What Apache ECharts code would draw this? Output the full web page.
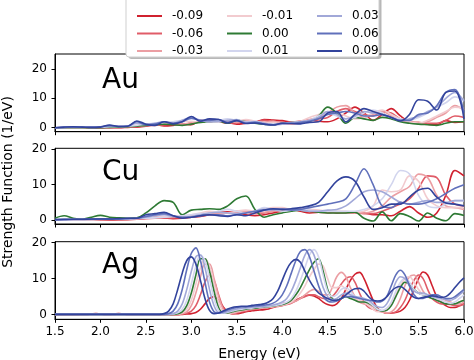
<!DOCTYPE html>
<html><head><meta charset="utf-8">
<script src="https://cdn.jsdelivr.net/npm/echarts@6/dist/echarts.min.js"></script>
<style>html,body{margin:0;padding:0;background:#fff}#c{width:474px;height:360px}</style>
</head><body><div id="c"></div>
<script>
// ---------- DATA ----------
const dopingLabels = ['-0.09','-0.06','-0.03','-0.01','0.00','0.01','0.03','0.06','0.09'];
const panelNames = ['Au','Cu','Ag'];
const yTickValues = [0, 10, 20];
const xTickInterval = 0.5;

const energyCoarse = [1.5,1.6,1.7,1.8,1.9,2.0,2.1,2.2,2.3,2.4,2.5,2.6,2.7,2.8,2.9,3.0,3.1,3.2,3.3,3.4,3.5,3.6,3.7,3.8,3.9,4.0,4.1,4.2,4.3,4.4,4.5,4.6,4.7,4.8,4.9,5.0,5.1,5.2,5.3,5.4,5.5,5.6,5.7,5.8,5.9,6.0];
const energyFine = [1.5,1.55,1.6,1.65,1.7,1.75,1.8,1.85,1.9,1.95,
  2.0,2.05,2.1,2.15,2.2,2.25,2.3,2.35,2.4,2.45,
  2.5,2.55,2.6,2.65,2.7,2.75,2.8,2.85,2.9,2.95,
  3.0,3.05,3.1,3.15,3.2,3.25,3.3,3.35,3.4,3.45,
  3.5,3.55,3.6,3.65,3.7,3.75,3.8,3.85,3.9,3.95,
  4.0,4.05,4.1,4.15,4.2,4.25,4.3,4.35,4.4,4.45,
  4.5,4.55,4.6,4.65,4.7,4.75,4.8,4.85,4.9,4.95,
  5.0,5.05,5.1,5.15,5.2,5.25,5.3,5.35,5.4,5.45,
  5.5,5.55,5.6,5.65,5.7,5.75,5.8,5.85,5.9,5.95,6.0];

// Au (energyCoarse)
const au_m09 = [0,0,0,0,0, 0,0,0,0.1,0.2,0.5,1.0,0.6,0.8,1.2, 1.0,2.5,2.0,2.6,1.8,1.2,1.5,1.8,2.8,2.6, 2.4,2.0,2.2,2.6,2.2,2.0,3.0,5.0,7.0,5.0, 2.5,4.5,6.5,4.0,2.0,1.5,1.2,1.0,2.4,1.8, 2.0];
const au_m06 = [0,0,0,0,0, 0,0.1,0.1,0.2,0.3,0.6,0.8,1.0,1.2,1.0, 1.5,2.0,2.8,2.2,1.5,1.8,2.2,2.0,2.5,2.0, 1.8,1.5,2.0,2.5,3.0,3.5,5.5,6.5,5.5,4.5, 4.0,5.5,5.0,3.0,2.0,1.8,1.5,1.5,2.5,4.0, 3.5];
const au_m03 = [0,0,0,0,0, 0.1,0.2,0.2,0.3,0.5,0.8,1.0,1.2,1.5,1.2, 1.8,2.2,2.0,2.5,2.0,1.8,2.5,2.0,1.8,2.2, 1.5,1.2,1.8,2.8,3.5,5.0,7.0,7.5,5.0,3.5, 4.5,5.5,4.0,2.5,1.8,1.5,2.0,3.5,5.0,7.5, 6.0];
const au_m01 = [0,0,0,0,0.1, 0.2,0.3,0.4,0.5,0.8,1.0,1.2,1.5,1.8,2.0, 2.2,1.8,2.2,2.0,2.5,2.2,2.8,2.2,1.5,1.8, 1.2,1.5,2.2,3.5,4.5,5.5,5.0,4.0,3.0,3.5, 5.0,6.0,4.5,3.0,2.0,1.5,2.5,4.0,5.5,7.0, 6.5];
const au_00  = [0,0,0,0,0, 0,0.1,0.2,0.3,0.5,0.8,1.0,1.2,1.0,0.8, 1.2,1.8,2.0,2.2,1.5,2.5,2.0,1.5,1.2,1.0, 1.5,1.8,2.0,2.2,4.0,7.0,5.0,1.5,3.5,3.0, 2.5,3.5,3.0,2.0,1.5,1.2,1.0,0.8,1.5,2.0, 2.0];
const au_p01 = [0,0.1,0.1,0.1,0.2, 0.2,0.3,0.4,0.5,0.8,1.2,1.5,1.8,2.0,2.5, 3.0,2.5,2.0,2.5,3.0,2.5,2.0,2.2,1.5,1.2, 1.5,1.8,2.0,2.5,4.0,5.0,4.0,3.0,3.5,5.0, 6.0,5.0,3.5,3.0,2.5,3.5,5.0,7.0,8.5,10.5, 9.5];
const au_p03 = [0,0.1,0.2,0.2,0.2, 0.3,0.5,0.5,0.6,1.5,1.2,1.5,2.0,1.5,2.5, 3.5,2.5,2.0,2.0,2.5,2.8,1.8,2.0,1.5,1.0, 1.2,1.5,2.0,2.5,3.5,5.5,4.5,3.0,4.0,5.5, 5.0,4.5,3.5,2.5,3.0,4.0,5.5,7.0,10.0,12.0, 9.0];
const au_p06 = [0,0.1,0.2,0.2,0.1, 0.3,0.7,0.4,0.5,2.0,1.0,1.2,2.0,1.5,2.0, 3.2,2.5,2.5,2.8,1.8,2.5,1.5,1.8,1.2,1.0, 1.5,1.5,1.8,2.2,3.0,4.5,5.0,5.5,5.0,4.0, 4.0,4.5,3.5,2.5,2.5,4.5,5.0,7.5,12.0,13.0, 5.0];
const au_p09 = [0,0.2,0.3,0.2,0.1, 0.2,0.9,0.4,0.5,2.3,1.2,0.8,2.0,1.3,2.0, 3.8,2.2,3.0,2.8,1.6,2.4,1.4,1.6,1.2,0.9, 1.5,1.4,1.3,1.8,2.0,5.0,5.5,2.0,4.5,6.5, 5.5,4.5,3.5,2.3,4.5,9.5,9.0,6.0,12.0,12.5, 3.0];

// Cu (energyCoarse)
const cu_m09 = [0,0,0,0,0, 0,0,0.1,0.1,0.2,0.5,0.8,0.6,0.4,0.5, 0.8,1.0,1.5,2.2,2.3,2.0,1.5,1.2,1.5,2.0, 2.5,3.0,2.5,2.0,2.2,2.5,2.0,2.2,2.0,2.0, 1.5,1.5,1.2,2.5,3.8,2.0,0.8,2.0,7.0,14.0, 12.5];
const cu_m06 = [0,0,0,0,0, 0,0.1,0.1,0.2,0.3,0.4,0.5,0.6,0.6,0.8, 1.0,1.2,1.5,1.8,2.0,2.5,2.2,1.8,2.0,2.5, 2.8,3.0,2.8,2.5,2.2,2.0,2.2,2.0,2.2,1.8, 1.8,2.5,3.5,4.5,6.0,9.0,12.5,12.0,7.0,4.5, 4.0];
const cu_m03 = [0,0,0,0,0.1, 0.1,0.2,0.2,0.3,0.4,0.5,0.7,0.8,1.0,1.0, 1.2,1.5,2.0,1.8,2.0,2.2,2.5,2.0,2.2,2.5, 3.0,3.2,3.0,2.8,2.5,2.5,2.2,2.0,2.0,2.0, 2.5,4.0,6.5,8.0,9.5,13.0,12.0,7.0,4.0,3.5, 3.0];
const cu_m01 = [0,0,0,0.1,0.1, 0.2,0.2,0.3,0.4,0.5,0.6,0.8,1.0,1.2,1.2, 1.5,2.0,2.5,2.2,2.0,2.5,2.8,2.5,3.0,3.5, 3.5,3.0,3.2,3.0,2.8,2.5,2.5,2.5,2.2,2.5, 4.0,8.5,8.0,8.5,12.5,11.0,6.0,4.0,3.5,3.5, 3.5];
const cu_00  = [0.5,1.2,0.5,0.2,0.8, 1.3,0.8,0.6,0.5,0.6,2.0,4.0,5.5,5.0,1.5, 2.8,3.0,3.2,3.0,4.0,6.0,6.8,3.0,0.8,1.5, 2.0,2.5,2.8,2.5,2.2,2.0,2.0,2.0,2.2,0.5, -0.3,2.3,-0.2,1.8,1.0,-0.3,2.0,0.5,-0.2,1.8, 1.3];
const cu_p01 = [0,0,0.1,0.1,0.1, 0.2,0.2,0.3,0.3,0.4,0.5,0.6,0.8,1.0,1.2, 1.5,1.8,2.0,2.5,3.0,2.5,2.0,2.5,3.5,3.0, 2.5,2.8,3.0,2.8,2.5,2.5,2.5,2.5,2.5,3.0, 4.0,6.0,10.0,14.0,13.0,7.0,4.0,3.5,4.5,5.5, 5.5];
const cu_p03 = [0,0.1,0.1,0.1,0.2, 0.2,0.3,0.3,0.4,0.5,0.8,1.2,1.5,1.0,0.8, 1.0,1.5,2.0,2.2,2.0,1.8,2.0,2.5,3.0,3.0, 3.0,3.0,2.8,2.5,2.5,2.8,3.0,4.0,6.0,8.0, 8.5,8.0,6.5,5.0,4.5,5.0,5.5,5.0,5.0,5.5, 5.5];
const cu_p06 = [0.1,0.1,0.2,0.2,0.2, 0.3,0.3,0.3,0.4,0.5,1.0,1.5,1.8,1.2,0.8, 0.8,1.2,1.5,1.5,1.2,1.5,2.0,2.5,2.8,3.0, 3.0,2.8,3.0,3.5,4.0,4.5,5.0,6.0,10.0,14.5, 10.0,4.0,3.5,5.0,4.5,4.5,5.0,6.0,7.5,9.0, 10.0];
const cu_p09 = [0.1,0.2,0.2,0.2,0.3, 0.3,0.3,0.4,0.5,0.5,1.5,1.8,2.2,1.2,0.5, 0.8,1.2,1.5,1.2,1.0,1.5,1.2,2.0,2.8,3.2, 3.0,3.2,3.5,4.0,5.0,8.0,11.0,12.2,11.0,6.5, 3.0,3.5,4.5,4.5,6.5,8.5,9.0,6.5,4.8,4.5, 4.0];

// Ag (energyFine)
const ag_m09 = [0,0,0,0,0,0,0.1,0.1,0.2,0.3, 0.2,0.1,0.1,0.2,0.3,0.2,0.1,0.1,0.1,0.1, 0.1,0.1,0.1,0,0,
  0,0,0,0.1,0.2,0.3,0.6,1.5,3.0,4.5,
  5.0,4.0,2.2,0.8,0.3,0.3,0.5,0.8,1.0,1.2,
  1.3,1.4,1.6,2.0,2.5,3.0,3.3,3.5,4.0,4.6,
  5.2,5.4,5.2,4.5,3.5,2.8,2.5,3.0,4.5,7.0,
  9.5,11.2,11.7,10.0,7.0,4.0,1.8,0.8,0.5,0.5,
  0.6,1.0,2.0,4.0,7.0,10.0,11.8,11.0,8.0,5.0,
  3.5,2.5,2.0,2.0,2.5,3.0];
const ag_m06 = [0,0,0,0,0,0.1,0.1,0.1,0.2,0.2, 0.2,0.1,0.1,0.1,0.2,0.2,0.1,0.1,0.1,0.1, 0.1,0.1,0,0,0,
  0,0,0.1,0.2,0.4,1.0,2.5,5.5,9.0,11.0,
  9.5,5.5,2.0,0.5,0.3,0.5,0.8,1.0,1.3,1.5,
  1.7,1.9,2.0,2.1,2.3,2.5,2.8,3.2,3.8,4.5,
  5.0,5.5,5.5,5.0,4.5,4.5,5.0,6.5,8.5,10.0,
  10.5,9.0,6.0,3.5,2.0,1.5,1.0,0.8,0.5,0.5,
  0.8,2.0,4.0,7.0,9.5,11.0,10.0,7.0,4.5,3.5,
  3.0,3.0,2.8,2.5,2.5,3.0];
const ag_m03 = [0.1,0.1,0.1,0.1,0.1,0.1,0.1,0.1,0.1,0.1, 0.1,0.1,0.1,0.1,0.1,0.1,0.1,0.1,0.1,0.1, 0.1,0.1,0.1,0.1,0.1,
  0.1,0.1,0.1,0.3,0.8,2.5,6.0,10.5,14.0,14.0,
  10.0,5.0,1.5,0.4,0.4,0.7,1.0,1.3,1.5,1.7,
  1.8,2.0,2.1,2.2,2.4,2.6,2.9,3.3,3.8,4.5,
  5.5,6.5,7.0,6.5,5.5,5.5,7.5,10.5,11.7,10.5,
  7.5,5.0,3.5,3.0,2.8,2.2,1.5,0.8,0.5,0.8,
  2.0,4.5,8.0,10.5,11.0,9.0,6.5,5.0,4.5,4.5,
  4.5,4.0,3.5,3.0,3.0,3.5];
const ag_m01 = [0.1,0.1,0.1,0.1,0.1,0.1,0.1,0.1,0.1,0.1, 0.1,0.1,0.1,0.1,0.1,0.1,0.1,0.1,0.1,0.1, 0.1,0.1,0.1,0.1,0.1,
  0.1,0.1,0.2,0.5,1.5,4.0,8.5,13.0,15.5,13.5,
  8.5,3.5,0.8,0.4,0.6,0.9,1.2,1.4,1.6,1.8,
  1.9,2.0,2.1,2.3,2.5,2.7,3.0,3.5,4.5,6.0,
  8.0,10.5,12.5,14.0,13.5,10.0,7.5,7.5,8.0,7.0,
  5.5,4.5,4.0,3.5,2.5,1.5,0.8,0.8,1.5,3.0,
  5.5,8.0,10.0,10.5,9.0,7.0,5.5,5.0,4.8,4.5,
  4.0,3.5,3.0,3.0,3.5,4.0];
const ag_00 = [0.1,0.1,0.1,0.1,0.1,0.1,0.1,0.1,0.1,0.1, 0.1,0.1,0.1,0.1,0.1,0.1,0.1,0.1,0.1,0.1, 0.1,0.1,0.1,0.1,0.1,
  0.1,0.1,0.3,0.8,2.5,6.0,11.0,15.5,15.5,12.0,
  6.5,2.0,0.5,0.5,0.8,1.1,1.3,1.5,1.7,1.8,
  2.0,2.1,2.2,2.4,2.6,2.8,3.2,4.0,5.5,7.5,
  10.0,12.5,14.5,15.5,12.0,7.0,4.5,4.0,4.5,5.0,
  4.5,4.0,3.5,3.5,3.2,2.5,1.5,1.0,1.2,2.5,
  5.0,7.5,9.0,8.5,7.0,6.0,5.5,5.0,4.5,4.0,
  3.5,3.0,3.0,3.0,3.5,4.0];
const ag_p01 = [0.1,0.1,0.1,0.1,0.1,0.1,0.1,0.1,0.1,0.1, 0.1,0.1,0.1,0.1,0.1,0.1,0.1,0.1,0.1,0.1, 0.1,0.1,0.1,0.1,0.1,
  0.1,0.2,0.5,1.5,4.0,8.5,13.5,16.5,15.0,10.0,
  4.5,1.2,0.4,0.7,1.0,1.3,1.5,1.7,1.8,2.0,
  2.1,2.2,2.3,2.5,2.7,3.0,3.5,4.5,6.5,9.5,
  13.0,16.5,18.0,16.0,11.0,6.5,5.0,5.5,7.0,7.5,
  6.5,5.0,4.5,4.2,3.5,2.5,1.5,1.2,1.8,3.5,
  6.5,9.0,10.0,9.0,7.0,6.0,5.5,5.5,5.0,4.5,
  4.0,3.5,3.2,3.5,4.5,5.5];
const ag_p03 = [0.1,0.1,0.1,0.1,0.1,0.1,0.1,0.1,0.1,0.1, 0.1,0.1,0.1,0.1,0.1,0.1,0.1,0.1,0.1,0.1, 0.1,0.1,0.1,0.1,0.1,
  0.1,0.3,1.0,3.0,7.0,12.0,16.0,16.5,13.0,7.0,
  2.5,0.6,0.5,0.9,1.3,1.6,1.8,1.9,2.0,2.1,
  2.2,2.3,2.5,2.7,3.0,3.5,4.5,6.5,9.5,13.0,
  16.5,18.0,16.5,12.0,7.5,5.0,4.2,4.5,5.5,6.0,
  5.5,5.0,4.8,4.5,4.0,3.0,2.2,2.0,3.0,5.5,
  9.0,10.5,10.0,8.0,6.5,6.0,6.0,5.5,5.0,4.8,
  4.5,4.2,4.0,4.5,5.5,6.5];
const ag_p06 = [0.1,0.1,0.1,0.1,0.1,0.1,0.1,0.1,0.1,0.1, 0.1,0.1,0.1,0.1,0.1,0.1,0.1,0.1,0.1,0.1, 0.1,0.1,0.1,0.1,0.1,
  0.3,1.0,3.0,7.0,12.5,17.0,18.5,15.0,9.0,3.5,
  0.8,0.4,0.8,1.3,1.7,2.0,2.2,2.2,2.3,2.4,
  2.5,2.6,2.8,3.2,4.0,5.5,8.0,11.5,15.0,17.5,
  18.0,16.0,12.0,8.0,5.0,3.8,3.5,3.8,4.5,5.0,
  5.0,4.8,4.5,4.2,4.0,3.8,3.5,3.8,5.0,8.0,
  11.0,12.3,11.0,8.0,5.5,4.5,4.5,5.0,5.5,5.5,
  5.0,4.5,4.5,5.0,6.0,7.0];
const ag_p09 = [0.1,0.1,0.1,0.1,0.1,0.1,0.1,0.1,0.1,0.1, 0.1,0.1,0.1,0.1,0.1,0.1,0.1,0.1,0.1,0.1, 0.1,0.1,0.1,0.1,0.3,
  1.0,3.0,7.0,11.5,15.0,16.0,14.0,9.5,4.5,1.2,
  0.3,0.5,1.0,1.6,2.0,2.2,2.3,2.3,2.5,2.7,
  2.8,3.0,3.5,4.5,6.5,9.5,12.5,14.5,15.3,14.5,
  12.0,9.5,7.5,6.0,5.2,4.5,4.0,4.0,4.5,5.5,
  6.5,7.2,7.3,6.5,5.0,4.0,3.8,4.0,5.0,6.5,
  7.5,7.8,7.0,5.8,4.8,4.5,4.8,5.0,5.2,5.0,
  4.8,5.0,6.0,7.5,9.0,10.2];

// ---------- STYLE ----------
const seriesColors = ['#d0212f','#e05c68','#eb9ea3','#f2cbcf','#2e7a34','#d2d5ee','#a1a8d8','#6070bb','#32439c'];
const FONT = 'DejaVu Sans';

const panels = [
  {name: panelNames[0], energy: energyCoarse, values: [au_m09,au_m06,au_m03,au_m01,au_00,au_p01,au_p03,au_p06,au_p09], top: 54, height: 77.7, ymin: -1.37, ymax: 25.1, labelY: 81},
  {name: panelNames[1], energy: energyCoarse, values: [cu_m09,cu_m06,cu_m03,cu_m01,cu_00,cu_p01,cu_p03,cu_p06,cu_p09], top: 148.3, height: 75.7, ymin: -1.13, ymax: 20.3, labelY: 172.5},
  {name: panelNames[2], energy: energyFine, values: [ag_m09,ag_m06,ag_m03,ag_m01,ag_00,ag_p01,ag_p03,ag_p06,ag_p09], top: 241.7, height: 77.6, ymin: -1.27, ymax: 20.2, labelY: 266}
];

const grids = [], xAxes = [], yAxes = [], series = [];
panels.forEach((p, i) => {
  grids.push({left: 55, right: 10, top: p.top, height: p.height, show: true, borderColor: '#000', borderWidth: 1, backgroundColor: 'transparent', containLabel: false, outerBoundsMode: 'none'});
  xAxes.push({
    type: 'value', gridIndex: i, min: 1.5, max: 6.0, interval: xTickInterval,
    axisLine: {show: true, onZero: false, lineStyle: {color: '#000', width: 1}},
    axisTick: {show: true, inside: false, length: 3.5, lineStyle: {color: '#000', width: 1}},
    axisLabel: {show: i === 2, margin: 7, fontSize: 12, color: '#000', fontFamily: FONT, formatter: v => v.toFixed(1), showMinLabel: true, showMaxLabel: true},
    splitLine: {show: false},
    name: i === 2 ? 'Energy (eV)' : '', nameLocation: 'middle', nameGap: 28,
    nameTextStyle: {fontSize: 14, color: '#000', fontFamily: FONT}
  });
  yAxes.push({
    type: 'value', gridIndex: i, min: p.ymin, max: p.ymax,
    axisLine: {show: true, onZero: false, lineStyle: {color: '#000', width: 1}},
    axisTick: {show: true, inside: false, length: 3.5, customValues: yTickValues, lineStyle: {color: '#000', width: 1}},
    axisLabel: {show: true, margin: 8, fontSize: 12, color: '#000', fontFamily: FONT, customValues: yTickValues},
    splitLine: {show: false}
  });
  p.values.forEach((vals, k) => {
    series.push({
      type: 'line', name: dopingLabels[k], xAxisIndex: i, yAxisIndex: i,
      data: p.energy.map((e, j) => [e, vals[j]]),
      showSymbol: false, symbol: 'none', smooth: 0.35,
      lineStyle: {width: 1.6, color: seriesColors[k]},
      itemStyle: {color: seriesColors[k]},
      emphasis: {disabled: true}, silent: true, animation: false, z: 2 + k * 0.01
    });
  });
});

const legendLefts = [132, 222, 312];
const legends = [0, 1, 2].map(c => ({
  data: dopingLabels.slice(c * 3, c * 3 + 3),
  orient: 'vertical', left: legendLefts[c], top: 4,
  icon: 'rect', itemWidth: 25, itemHeight: 2, itemGap: 3.5,
  selectedMode: false, z: 60,
  textStyle: {fontSize: 12, fontFamily: FONT, color: '#000', lineHeight: 14, padding: [0, 0, 0, 5]}
}));

const graphics = [
  {type: 'rect', z: 50, shape: {x: 128.5, y: -4, width: 253, height: 63, r: 3}, style: {fill: 'rgba(0,0,0,0.28)'}},
  {type: 'rect', z: 51, shape: {x: 126, y: -6, width: 253, height: 63, r: 3}, style: {fill: '#fff', stroke: '#cfcfcf', lineWidth: 1}},
  {type: 'text', z: 5, x: 8, y: 182, rotation: Math.PI / 2, style: {text: 'Strength Function (1/eV)', fontSize: 14, fontFamily: FONT, fill: '#000', align: 'center', verticalAlign: 'middle'}}
];
panels.forEach(p => {
  graphics.push({type: 'text', z: 5, x: 102, y: p.labelY, style: {text: p.name, fontSize: 28, fontFamily: FONT, fill: '#000', align: 'left', verticalAlign: 'middle'}});
});

const chart = echarts.init(document.getElementById('c'), null, {renderer: 'canvas', width: 474, height: 360});
chart.setOption({
  animation: false,
  backgroundColor: '#fff',
  textStyle: {fontFamily: FONT},
  grid: grids, xAxis: xAxes, yAxis: yAxes,
  legend: legends,
  graphic: {elements: graphics},
  series: series
});
</script>
</body></html>
